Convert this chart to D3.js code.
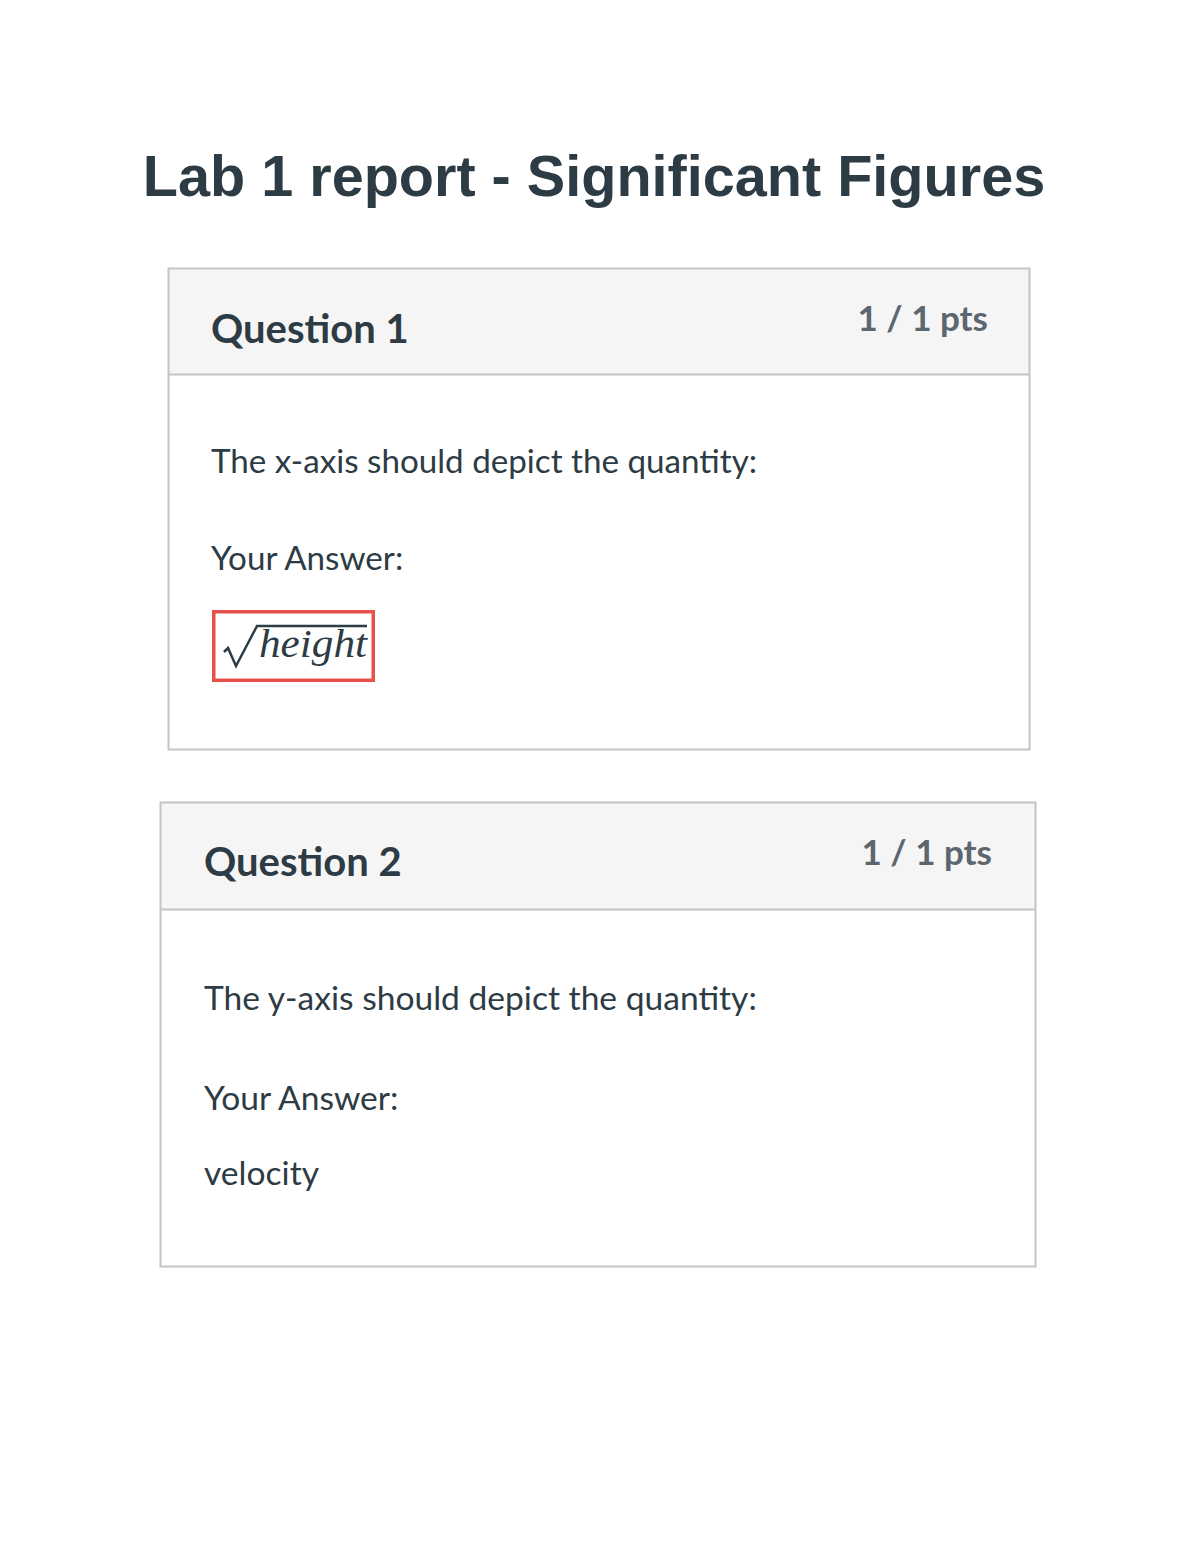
<!DOCTYPE html>
<html>
<head>
<meta charset="utf-8">
<script src="https://cdn.jsdelivr.net/npm/d3@7"></script>
<style>
  html, body { margin: 0; padding: 0; background: #fff; }
</style>
</head>
<body>
<div id="page"></div>
<script>
// content
var pageTitle = "Lab 1 report - Significant Figures";
var questions = ["Question 1", "Question 2"];
var points = ["1 / 1 pts", "1 / 1 pts"];
var prompts = ["The x-axis should depict the quantity:", "The y-axis should depict the quantity:"];
var answerLabel = "Your Answer:";
var answers = ["height", "velocity"];
var answerIsFormula = [true, false];

// layout of the two cards (they are not quite aligned in the scan)
var cards = [
  {x: 168, y: 268, w: 862, h: 482, head: 106, pad: 43, ptsPad: 42, qBase: 75, ptsBase: 63, promptBase: 205, labelBase: 302, answerBase: 342, body: 33.2},
  {x: 160, y: 802, w: 876, h: 465, head: 107, pad: 44, ptsPad: 44, qBase: 74, ptsBase: 63, promptBase: 208, labelBase: 308, answerBase: 383, body: 33.6}
];

var cfg = {
  width: 1200,
  height: 1553,
  ink: "#2d3b45",
  grey: "#5c666f",
  border: "#c4c4c4",
  headBg: "#f5f5f5",
  red: "#e8504a",
  sans: "Lato, 'Open Sans', sans-serif"
};

var svg = d3.select("#page")
  .append("svg")
  .attr("width", cfg.width)
  .attr("height", cfg.height);

svg.append("rect")
  .attr("width", cfg.width)
  .attr("height", cfg.height)
  .style("fill", "#fff");

svg.append("text")
  .attr("x", cfg.width / 2 - 6)
  .attr("y", 196)
  .attr("text-anchor", "middle")
  .style("font-family", "'Liberation Sans', Arial, sans-serif")
  .style("font-weight", "bold")
  .style("font-size", "57.6px")
  .style("fill", cfg.ink)
  .text(pageTitle);

var card = svg.selectAll(".card")
  .data(questions.map(function(q, i){
    return {q: q, pts: points[i], prompt: prompts[i], answer: answers[i], formula: answerIsFormula[i], box: cards[i]};
  }))
  .enter()
  .append("g")
  .attr("class", "card")
  .attr("transform", function(d){ return "translate(" + d.box.x + "," + d.box.y + ")"; });

// header band
card.append("rect")
  .attr("width", function(d){ return d.box.w; })
  .attr("height", function(d){ return d.box.head; })
  .style("fill", cfg.headBg);

card.append("line")
  .attr("x1", 0)
  .attr("x2", function(d){ return d.box.w; })
  .attr("y1", function(d){ return d.box.head + 0.5; })
  .attr("y2", function(d){ return d.box.head + 0.5; })
  .style("stroke", cfg.border)
  .style("stroke-width", "2px");

// outer frame
card.append("rect")
  .attr("x", 0.5)
  .attr("y", 0.5)
  .attr("width", function(d){ return d.box.w - 1; })
  .attr("height", function(d){ return d.box.h - 1; })
  .style("fill", "none")
  .style("stroke", cfg.border)
  .style("stroke-width", "2px");

card.append("text")
  .attr("x", function(d){ return d.box.pad; })
  .attr("y", function(d){ return d.box.qBase; })
  .style("font-family", cfg.sans)
  .style("font-weight", "bold")
  .style("font-size", "40px")
  .style("fill", cfg.ink)
  .text(function(d){ return d.q; });

card.append("text")
  .attr("x", function(d){ return d.box.w - d.box.ptsPad; })
  .attr("y", function(d){ return d.box.ptsBase; })
  .attr("text-anchor", "end")
  .style("font-family", cfg.sans)
  .style("font-weight", "bold")
  .style("font-size", "35px")
  .style("fill", cfg.grey)
  .text(function(d){ return d.pts; });

card.append("text")
  .attr("x", function(d){ return d.box.pad; })
  .attr("y", function(d){ return d.box.promptBase; })
  .style("font-family", cfg.sans)
  .style("font-size", function(d){ return d.box.body + "px"; })
  .style("fill", cfg.ink)
  .text(function(d){ return d.prompt; });

card.append("text")
  .attr("x", function(d){ return d.box.pad; })
  .attr("y", function(d){ return d.box.labelBase; })
  .style("font-family", cfg.sans)
  .style("font-size", function(d){ return d.box.body + "px"; })
  .style("fill", cfg.ink)
  .text(answerLabel);

// plain answers
card.filter(function(d){ return !d.formula; })
  .append("text")
  .attr("x", function(d){ return d.box.pad; })
  .attr("y", function(d){ return d.box.answerBase; })
  .style("font-family", cfg.sans)
  .style("font-size", function(d){ return d.box.body + "px"; })
  .style("fill", cfg.ink)
  .text(function(d){ return d.answer; });

// formula answer: sqrt(height) in a red frame
var formula = card.filter(function(d){ return d.formula; })
  .append("g")
  .attr("transform", function(d){ return "translate(" + (d.box.pad + 1) + "," + d.box.answerBase + ")"; });

formula.append("rect")
  .attr("x", 1.75)
  .attr("y", 1.75)
  .attr("width", 159.5)
  .attr("height", 68.5)
  .style("fill", "#fff")
  .style("stroke", cfg.red)
  .style("stroke-width", "3.5px");

var radical = d3.line()([[12, 42], [16, 38], [24, 56], [45, 16], [155, 16]]);
formula.append("path")
  .attr("d", radical)
  .style("fill", "none")
  .style("stroke", cfg.ink)
  .style("stroke-width", "2.5px")
  .style("stroke-linejoin", "miter");

formula.append("text")
  .attr("x", 47)
  .attr("y", 47)
  .attr("textLength", 108)
  .attr("lengthAdjust", "spacingAndGlyphs")
  .style("font-family", "'Liberation Serif', 'DejaVu Serif', serif")
  .style("font-style", "italic")
  .style("font-size", "40px")
  .style("fill", cfg.ink)
  .text(function(d){ return d.answer; });
</script>
</body>
</html>
